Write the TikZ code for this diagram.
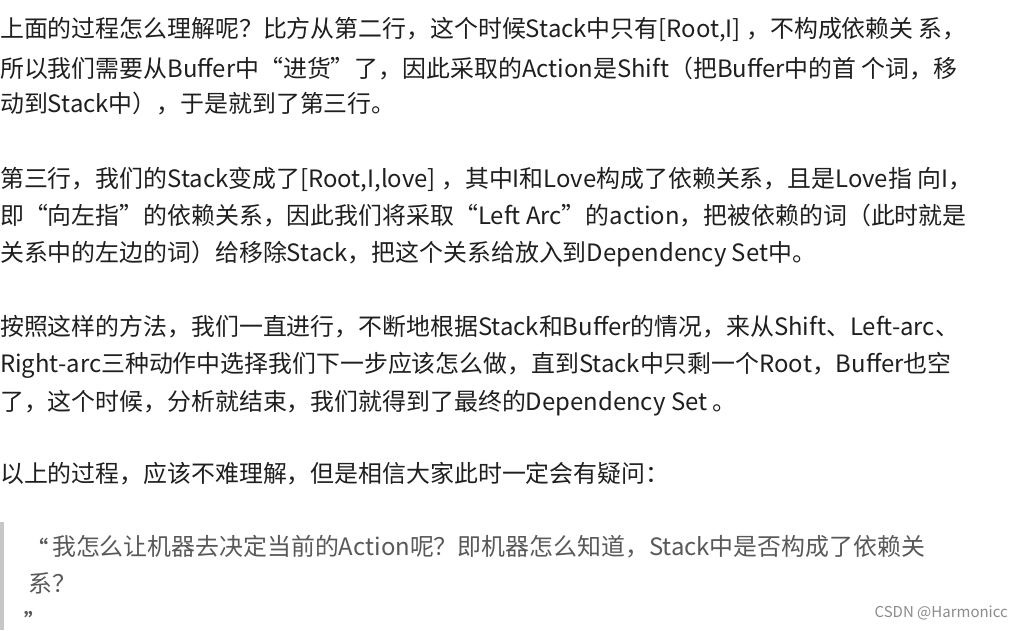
\documentclass[tikz,border=0pt]{standalone}
\usepackage{fontspec}
\setmainfont{Noto Sans CJK SC}
\begin{document}
\begin{tikzpicture}[x=1pt,y=-1pt,
  ln/.style={anchor=base west,inner sep=0pt,font=\fontsize{23.9}{26}\selectfont,text=black!88},
  qt/.style={ln,text=black!65}]
\useasboundingbox[fill=white] (0,0) rectangle (1013,630);
\node[ln] (l1) at (0,37) {上面的过程怎么理解呢？比方从第二行，这个时候Stack中只有[Root,I] ，不构成依赖关 系，};
\node[ln] (l2) at (0,77) {所以我们需要从Buffer中“进货”了，因此采取的Action是Shift（把Buffer中的首 个词，移};
\node[ln] (l3) at (0,112) {动到Stack中），于是就到了第三行。};
\node[ln] (l4) at (0,187) {第三行，我们的Stack变成了[Root,I,love] ，其中I和Love构成了依赖关系，且是Love指 向I，};
\node[ln] (l5) at (0,224) {即“向左指”的依赖关系，因此我们将采取“Left Arc”的action，把被依赖的词（此时就是};
\node[ln] (l6) at (0,261) {关系中的左边的词）给移除Stack，把这个关系给放入到Dependency Set中。};
\node[ln] (l7) at (0,335) {按照这样的方法，我们一直进行，不断地根据Stack和Buffer的情况，来从Shift、Left-arc、};
\node[ln] (l8) at (0,372) {Right-arc三种动作中选择我们下一步应该怎么做，直到Stack中只剩一个Root，Buffer也空};
\node[ln] (l9) at (0,410) {了，这个时候，分析就结束，我们就得到了最终的Dependency Set 。};
\node[ln] (l10) at (0,482) {以上的过程，应该不难理解，但是相信大家此时一定会有疑问：};
\fill[black!22] (0,522) rectangle (4,630);
\node[qt] (q1) at (28,555) {{\fontsize{20}{20}\selectfont\bfseries “}\,我怎么让机器去决定当前的Action呢？即机器怎么知道，Stack中是否构成了依赖关};
\node[qt] (q2) at (28,592) {系？};
\node[qt,font=\fontsize{20}{20}\selectfont\bfseries] (q3) at (24,628) {”};
\node[anchor=base east,inner sep=0pt,font=\fontsize{15}{16}\selectfont,text=black!45] (wm) at (1008,617) {CSDN @Harmonicc};
\end{tikzpicture}
\end{document}
